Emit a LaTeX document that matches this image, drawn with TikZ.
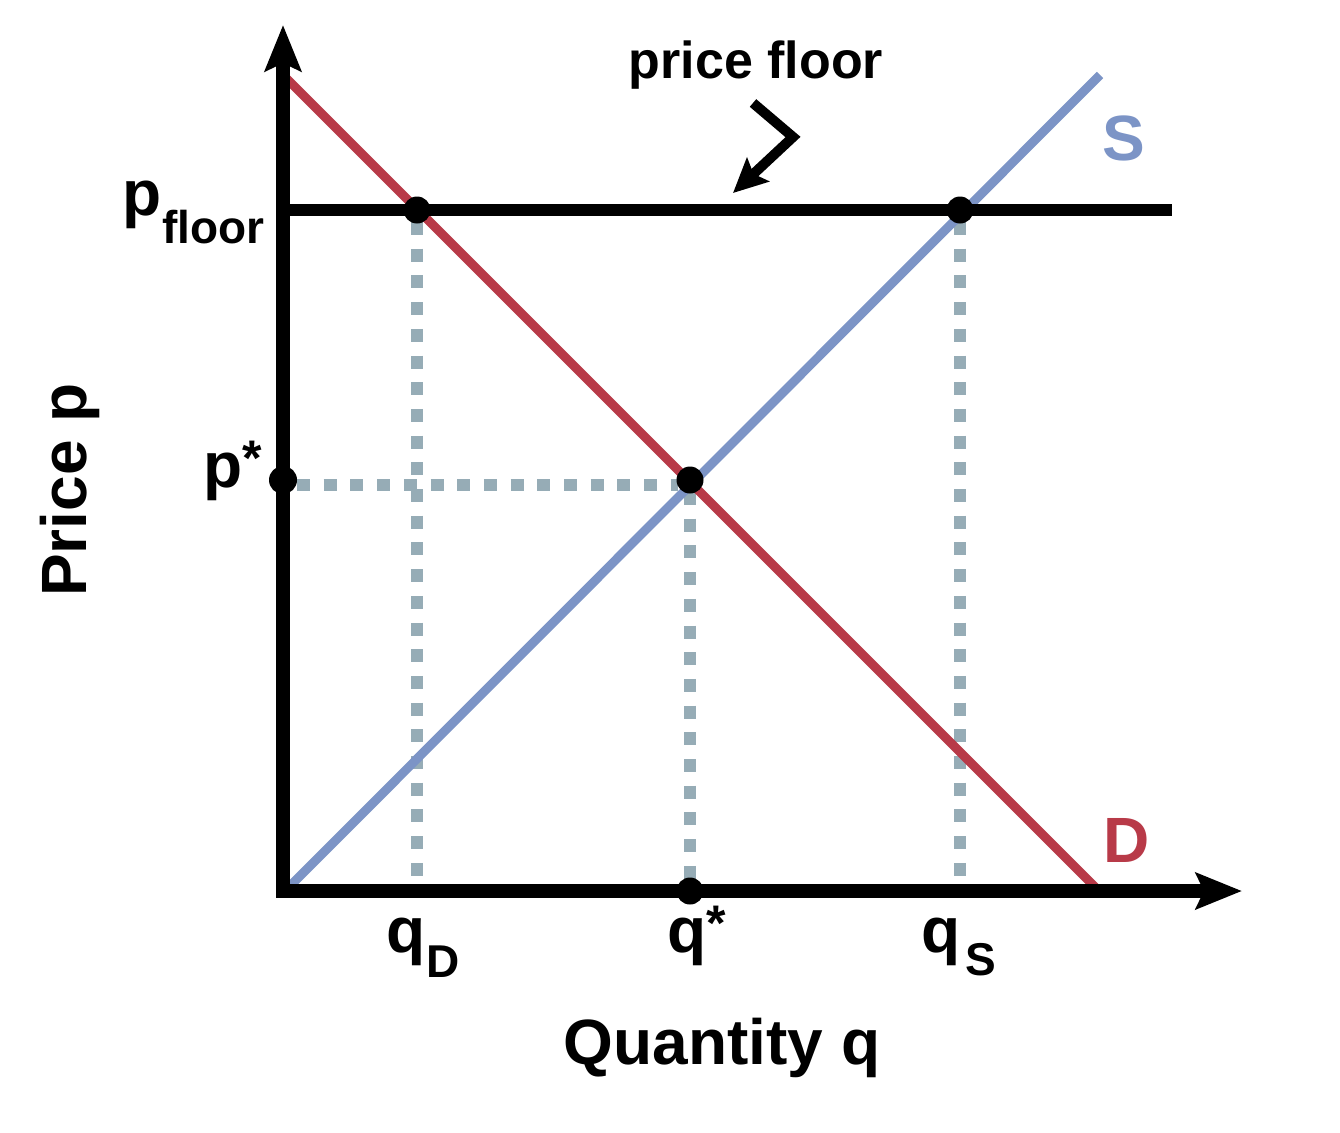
\documentclass[tikz,border=0pt]{standalone}
\usepackage{fontspec}
\setmainfont{Liberation Sans}
\usetikzlibrary{arrows.meta}
\definecolor{supcol}{RGB}{124,148,198}
\definecolor{demcol}{RGB}{184,58,72}
\definecolor{guidecol}{RGB}{150,172,182}
\newcommand{\smallstar}{{\fontsize{50}{50}\selectfont\raisebox{12pt}{*}}}
\tikzset{
  axisline/.style={line width=14pt, line join=miter, {Stealth[length=46pt,width=36pt,inset=8pt]}-{Stealth[length=46pt,width=36pt,inset=8pt]}},
  curveline/.style={line width=9pt},
  guide/.style={guidecol, line width=12pt, dash pattern=on 13pt off 13.7pt},
  dotpt/.style={circle, fill=black, inner sep=0pt, minimum size=27pt},
  lbl/.style={font=\bfseries\fontsize{64}{64}\selectfont, inner sep=0pt},
  sublbl/.style={font=\bfseries\fontsize{46}{46}\selectfont, inner sep=0pt},
}
\begin{document}
\begin{tikzpicture}[x=1pt,y=-1pt]
\useasboundingbox (0,0) rectangle (1340,1132);
% coordinates
\coordinate (O) at (283,891);
\coordinate (ytip) at (283,25);
\coordinate (xtip) at (1242,891);
\coordinate (dtop) at (283,75);
\coordinate (dbot) at (1097,889);
\coordinate (sbot) at (290,886);
\coordinate (stop) at (1100,75);
\coordinate (fl) at (283,210);
\coordinate (fr) at (1172,210);
\coordinate (qDb) at (417,891);
\coordinate (qSb) at (960,891);
% guides
\draw[guide] (417,222) -- (qDb);
\draw[guide] (960,222) -- (qSb);
\draw[guide] (690,492) -- (690,891);
\draw[guide] (297,485) -- (678,485);
% curves
\draw[curveline, demcol] (dtop) -- (dbot);
\draw[curveline, supcol] (sbot) -- (stop);
% floor
\draw[line width=12pt] (fl) -- (fr);
% axes
\draw[axisline] (ytip) -- (O) -- (xtip);
% dots
\node[dotpt] (a) at (417,210) {};
\node[dotpt] (b) at (960,210) {};
\node[dotpt] (e) at (690,480) {};
\node[dotpt, minimum size=28pt] (pe) at (283,480) {};
\node[dotpt] (qe) at (690,891) {};
% price floor label and arrow
\node[font=\bfseries\fontsize{52}{52}\selectfont, inner sep=0pt, anchor=base] (pf) at (756,78) {price floor};
\coordinate (ar1) at (753,103);
\coordinate (ar2) at (793,137);
\coordinate (ar3) at (733,193);
\draw[line width=10pt, line join=miter, -{Stealth[length=34pt,width=32pt,inset=6pt]}] (ar1) -- (ar2) -- (ar3);
% tick labels
\node[lbl, anchor=base east] (pfl) at (162,215) {p};
\node[sublbl, anchor=base west] (pfls) at (162,243) {floor};
\node[lbl, anchor=base west] (pst) at (203,487) {p\smallstar};
\node[lbl, anchor=base] (qd) at (406,952) {q};
\node[sublbl, anchor=base] (qds) at (443,977) {D};
\node[lbl, anchor=base west] (qst) at (667,952) {q\smallstar};
\node[lbl, anchor=base] (qs) at (941,952) {q};
\node[sublbl, anchor=base] (qss) at (981,975) {S};
% curve labels
\node[lbl, supcol, anchor=base] (sl) at (1124,160) {S};
\node[lbl, demcol, anchor=base] (dl) at (1127,862) {D};
% axis titles
\node[lbl, anchor=base] (xt) at (722,1064) {Quantity q};
\node[lbl, anchor=base, rotate=90] (yt) at (86,490) {Price p};
\end{tikzpicture}
\end{document}
